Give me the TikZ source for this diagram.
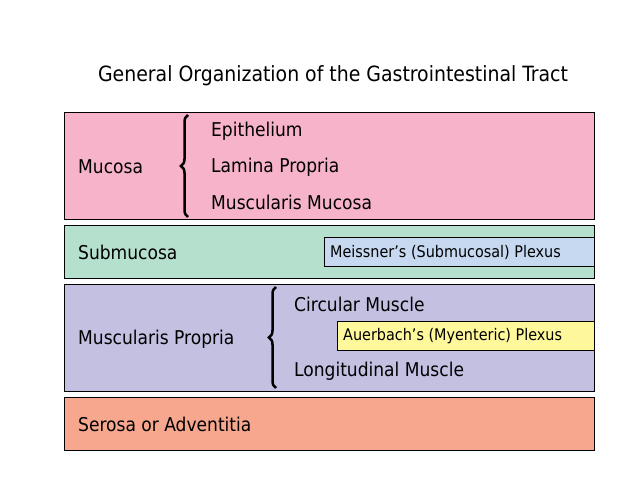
\documentclass[tikz,border=0pt]{standalone}
\usepackage{fontspec}
\setmainfont{DejaVu Sans Condensed}
\usetikzlibrary{decorations.pathreplacing}
\definecolor{cmuc}{HTML}{F7B3C9}
\definecolor{csub}{HTML}{B5E0CD}
\definecolor{cmei}{HTML}{C7D9F1}
\definecolor{cmus}{HTML}{C3C0E2}
\definecolor{caue}{HTML}{FFF79B}
\definecolor{cser}{HTML}{F6A78D}
\begin{document}
\begin{tikzpicture}[x=1pt,y=-1pt,
 layer/.style={draw=black,line width=1.2pt,anchor=north west,inner sep=0pt},
 lbl/.style={anchor=west,font=\fontsize{19}{22}\selectfont,inner sep=0pt},
 sml/.style={anchor=west,font=\fontsize{16}{19}\selectfont,inner sep=0pt},
 br/.style={decorate,decoration={brace,amplitude=7pt},line width=2.5pt}]
\useasboundingbox (0,0) rectangle (638,478);
\node[font=\fontsize{21}{24}\selectfont] (title) at (333,76) {General Organization of the Gastrointestinal Tract};
\node[layer,fill=cmuc,minimum width=530,minimum height=107] (muc) at (64,112) {};
\node[layer,fill=csub,minimum width=530,minimum height=53] (sub) at (64,225) {};
\node[layer,fill=cmei,minimum width=270,minimum height=29] (mei) at (324,237) {};
\node[layer,fill=cmus,minimum width=530,minimum height=107] (mus) at (64,284) {};
\node[layer,fill=caue,minimum width=257,minimum height=29] (aue) at (337,321) {};
\node[layer,fill=cser,minimum width=530,minimum height=53] (ser) at (64,397) {};
\node[lbl] (t1) at (78,167) {Mucosa};
\node[lbl] (t2) at (211,131) {Epithelium};
\node[lbl] (t3) at (211,167) {Lamina Propria};
\node[lbl] (t4) at (211,202) {Muscularis Mucosa};
\node[lbl] (t5) at (78,252) {Submucosa};
\node[sml] (t6) at (330,252) {Meissner’s (Submucosal) Plexus};
\node[lbl] (t7) at (78,339) {Muscularis Propria};
\node[lbl] (t8) at (294,304) {Circular Muscle};
\node[sml] (t9) at (343,336) {Auerbach’s (Myenteric) Plexus};
\node[lbl] (t10) at (294,371) {Longitudinal Muscle};
\node[lbl] (t11) at (78,424) {Serosa or Adventitia};
\coordinate (b1a) at (188,217); \coordinate (b1b) at (188,115);
\coordinate (b2a) at (276,388); \coordinate (b2b) at (276,287);
\draw[br] (b1a) -- (b1b);
\draw[br] (b2a) -- (b2b);
\end{tikzpicture}
\end{document}
